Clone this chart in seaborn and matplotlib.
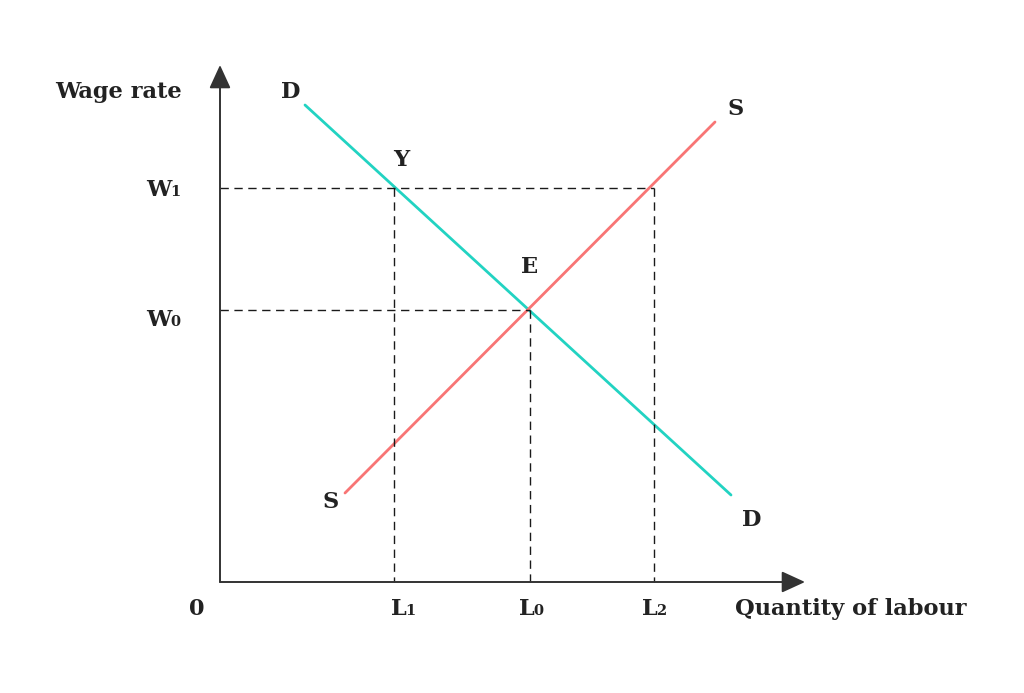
import matplotlib
matplotlib.use("Agg")
import matplotlib.pyplot as plt
import seaborn as sns
import pandas as pd

# curve end points (quantity, wage) in chart units, origin at 0
demand_q = [85, 511]
demand_w = [477, 87]
supply_q = [125, 495]
supply_w = [89, 460]

# equilibrium / reference levels
W1, W0 = 394, 272
L1, L0, L2 = 174, 310, 434
x_end, y_end = 585, 517

sns.set_theme(style="white")
plt.rcParams["font.family"] = ["DejaVu Serif"]

fig = plt.figure(figsize=(10.24, 6.93), dpi=100)
ax = fig.add_axes([0, 0, 1, 1])
ax.set_xlim(-220, 804)
ax.set_ylim(-111, 582)
ax.axis("off")

df = pd.concat([
    pd.DataFrame({"q": demand_q, "w": demand_w, "curve": "D"}),
    pd.DataFrame({"q": supply_q, "w": supply_w, "curve": "S"}),
])
sns.lineplot(data=df, x="q", y="w", hue="curve", palette={"D": "#22d3c2", "S": "#f87575"},
             lw=2.0, legend=False, ax=ax, sort=False, estimator=None)

# axes with arrow heads
axc = "#333333"
arr = dict(arrowstyle="-|>,head_length=0.72,head_width=0.33", mutation_scale=20,
           lw=1.4, color=axc, shrinkA=0, shrinkB=0)
ax.annotate("", xy=(0, y_end), xytext=(0, 0), arrowprops=arr)
ax.annotate("", xy=(x_end, 0), xytext=(0, 0), arrowprops=arr)

# dashed guides
dash = dict(color="#1a1a1a", lw=1.0, dashes=(6, 4))
ax.plot([0, L2], [W1, W1], **dash)
ax.plot([0, L0], [W0, W0], **dash)
ax.plot([L1, L1], [W1, 0], **dash)
ax.plot([L0, L0], [W0, 0], **dash)
ax.plot([L2, L2], [W1, 0], **dash)

tc = "#222222"
fs = 16.2
sub = 10.5
def t(x, y, s, ha="center", size=fs):
    ax.text(x, y, s, ha=ha, va="baseline", fontsize=size, fontweight="bold", color=tc)

def lab(x, y, main, idx):
    t(x, y, main, ha="right")
    t(x - 2, y, idx, ha="left", size=sub)

t(-165, 484, "Wage rate", ha="left")
t(71, 484, "D")
t(181, 416, "Y")
t(310, 309, "E")
t(516, 467, "S")
t(111, 74, "S")
t(532, 56, "D")
t(-23, -33, "0")
lab(-48, 386, "W", "1")
lab(-48, 256, "W", "0")
lab(187, -33, "L", "1")
lab(315, -33, "L", "0")
lab(438, -33, "L", "2")
t(515, -33, "Quantity of labour", ha="left")

fig.savefig("out.png", dpi=100, facecolor="white")
